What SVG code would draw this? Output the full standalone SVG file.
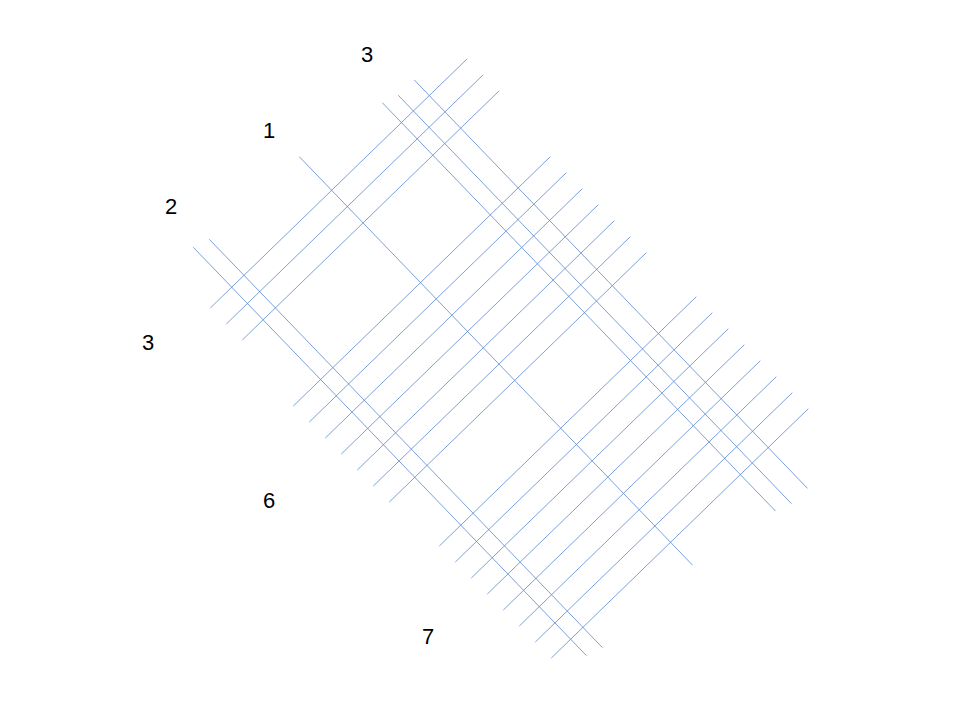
<svg xmlns="http://www.w3.org/2000/svg" width="960" height="720" viewBox="0 0 960 720">
<style>
  .ln { stroke: #5A88D0; stroke-width: 0.8; fill: none; }
  .lbl { font-family: "Liberation Sans", Arial, sans-serif; font-size: 22px; fill: #000000; text-anchor: middle; }
</style>
<rect width="960" height="720" fill="#ffffff"/>
<g id="lines-up-a">
  <line class="ln" x1="210.3" y1="308" x2="467.3" y2="58.7"/>
  <line class="ln" x1="226.3" y1="324" x2="483.3" y2="74.7"/>
  <line class="ln" x1="242.3" y1="340" x2="499.3" y2="90.7"/>
</g>
<g id="lines-up-b">
  <line class="ln" x1="293.3" y1="406" x2="550.3" y2="156.7"/>
  <line class="ln" x1="309.3" y1="422" x2="566.3" y2="172.7"/>
  <line class="ln" x1="325.3" y1="438" x2="582.3" y2="188.7"/>
  <line class="ln" x1="341.3" y1="454" x2="598.3" y2="204.7"/>
  <line class="ln" x1="357.3" y1="470" x2="614.3" y2="220.7"/>
  <line class="ln" x1="373.3" y1="486" x2="630.3" y2="236.7"/>
  <line class="ln" x1="389.3" y1="502" x2="646.3" y2="252.7"/>
</g>
<g id="lines-up-c">
  <line class="ln" x1="439.3" y1="546" x2="696.3" y2="296.7"/>
  <line class="ln" x1="455.3" y1="562" x2="712.3" y2="312.7"/>
  <line class="ln" x1="471.3" y1="578" x2="728.3" y2="328.7"/>
  <line class="ln" x1="487.3" y1="594" x2="744.3" y2="344.7"/>
  <line class="ln" x1="503.3" y1="610" x2="760.3" y2="360.7"/>
  <line class="ln" x1="519.3" y1="626" x2="776.3" y2="376.7"/>
  <line class="ln" x1="535.3" y1="642" x2="792.3" y2="392.7"/>
  <line class="ln" x1="551.3" y1="658" x2="808.3" y2="408.7"/>
</g>
<g id="lines-down">
  <line class="ln" x1="193.3" y1="247.3" x2="586.5" y2="655.7"/>
  <line class="ln" x1="209.3" y1="239.3" x2="602.5" y2="647.7"/>
  <line class="ln" x1="299.3" y1="156.7" x2="692.5" y2="565.1"/>
  <line class="ln" x1="382.3" y1="102.7" x2="775.5" y2="511.1"/>
  <line class="ln" x1="398.3" y1="95.3" x2="791.5" y2="503.7"/>
  <line class="ln" x1="414.3" y1="80" x2="807.5" y2="488.4"/>
</g>
<g id="labels">
  <text class="lbl" x="367" y="62.3">3</text>
  <text class="lbl" x="269" y="137.5">1</text>
  <text class="lbl" x="171" y="213.5">2</text>
  <text class="lbl" x="148" y="350">3</text>
  <text class="lbl" x="269" y="508.3">6</text>
  <text class="lbl" x="428" y="644">7</text>
</g>
</svg>
